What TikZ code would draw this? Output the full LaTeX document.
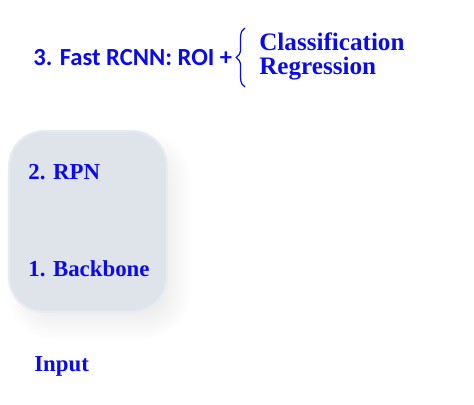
\documentclass[tikz,border=0pt]{standalone}
\usepackage{fontspec}
\setmainfont{Liberation Serif}
\newfontfamily\headfont{Carlito}
\usetikzlibrary{shadows.blur,decorations.pathreplacing}
\definecolor{stageblue}{HTML}{0A0AEE}
\definecolor{panelgray}{HTML}{DFE3EA}
\definecolor{paneledge}{HTML}{E8ECF2}

\begin{document}
\begin{tikzpicture}[x=0.02cm,y=-0.02cm,
    stage/.style={anchor=base west, inner sep=0pt, text=stageblue,
                  font=\fontsize{13}{16}\selectfont\bfseries},
    branch/.style={stage, font=\fontsize{14.3}{17}\selectfont\bfseries},
    head/.style={stage, font=\fontsize{14}{17}\selectfont\headfont\bfseries},
    panel/.style={draw=paneledge, line width=1.2pt, fill=panelgray,
                  rounded corners=20, minimum width=3.16cm, minimum height=3.62cm,
                  blur shadow={shadow xshift=6pt, shadow yshift=-8pt,
                               shadow opacity=7, shadow blur radius=9pt,
                               shadow blur steps=10}}]
    \useasboundingbox (0,0) rectangle (474,405);

    \node[panel] (stack) at (88,221.5) {};

    \node[stage] (rpn)      at (28,180) {2. RPN};
    \node[stage] (backbone) at (28,277) {1. Backbone};
    \node[stage] (input)    at (34,372) {Input};

    \node[head]  (fast)     at (33,66)  {3. Fast RCNN: ROI +};
    \coordinate  (btop) at (245,28);
    \coordinate  (bbot) at (245,87);
    \draw[stageblue, line width=0.7pt, decorate,
          decoration={brace, amplitude=5pt}] (bbot) -- (btop);
    \node[branch] (cls)     at (259,51) {Classification};
    \node[branch] (reg)     at (259,75) {Regression};
\end{tikzpicture}
\end{document}
